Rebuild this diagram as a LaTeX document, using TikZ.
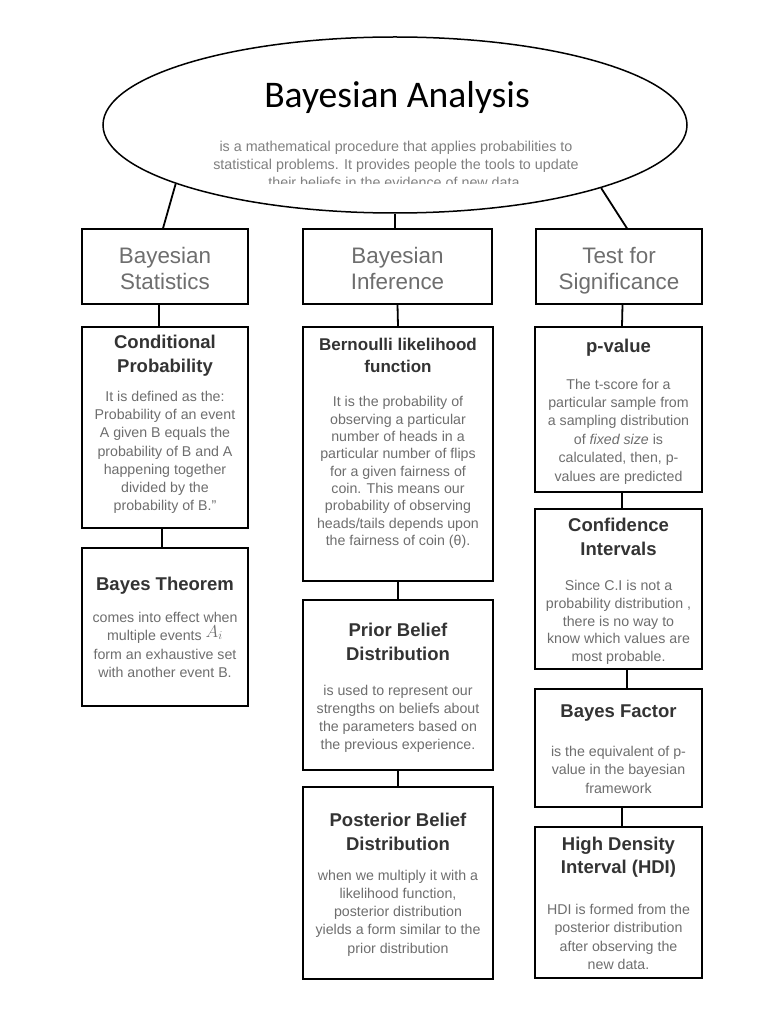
\documentclass[tikz,border=0pt]{standalone}
\usepackage{fontspec}
\setmainfont{Liberation Sans}
\newfontfamily\calfont{Carlito}
\usetikzlibrary{shapes.geometric}
\usetikzlibrary{positioning}
\definecolor{ttlgray}{HTML}{333333}
\definecolor{txtgray}{HTML}{6E6E6E}

\begin{document}
\begin{tikzpicture}[x=1pt,y=-1pt,
  box/.style={draw,line width=1.8pt,inner sep=0pt},
  hbox/.style={draw,line width=1.3pt,inner sep=0pt,minimum height=75pt},
  htxt/.style={inner sep=0pt,align=center,text=txtgray,font=\fontsize{22.4}{26}\selectfont},
  ttl/.style={inner sep=0pt,align=center,text=ttlgray,font=\bfseries\fontsize{18.5}{24}\selectfont},
  txt/.style={inner sep=0pt,align=center,text=txtgray,font=\fontsize{14.2}{18.2}\selectfont},
  link/.style={line width=1.8pt}]
  \fill[white] (0,0) rectangle (768,1024);
  \useasboundingbox (0,0) rectangle (768,1024);

  \node[draw,ellipse,line width=1.5pt,minimum width=584pt,minimum height=176pt,inner sep=0pt] (ba) at (395,125) {};
  \node[inner sep=0pt,font=\calfont\fontsize{37.6}{40}\selectfont] (bat) at (397,97) {Bayesian Analysis};
  \begin{scope}
    \clip (0,0) rectangle (768,184);
    \node[txt,text=gray,font=\fontsize{14.3}{18}\selectfont] (bab) at (396,164.5) {is a mathematical procedure that applies probabilities to\\statistical problems. It provides people the tools to update\\their beliefs in the evidence of new data.};
  \end{scope}

  \node[hbox,minimum width=166pt] (bs) at (165,266.5) {};
  \node[htxt] (bst) at (165,268) {Bayesian\\Statistics};
  \node[hbox,minimum width=189pt] (bi) at (397.5,266.5) {};
  \node[htxt] (bit) at (397.5,268) {Bayesian\\Inference};
  \node[hbox,minimum width=166pt] (ts) at (619,266.5) {};
  \node[htxt] (tst) at (619,270.5) {Test for\\Significance};

  \node[box,minimum width=166pt,minimum height=201pt] (cp) at (165,427.5) {};
  \node[ttl] (cpt) at (165,356) {Conditional\\Probability};
  \node[txt] (cpb) at (165,452.5) {It is defined as the:\\Probability of an event\\A given B equals the\\probability of B and A\\happening together\\divided by the\\probability of B.”};

  \node[box,minimum width=166pt,minimum height=158pt] (bt) at (165,627) {};
  \node[ttl] (btt) at (165,586) {Bayes Theorem};
  \node[txt,font=\fontsize{14.2}{18.6}\selectfont] (btb) at (165,645) {comes into effect when\\multiple events \smash{\raisebox{3.5pt}{\fontsize{16.5}{16.5}\selectfont$A_i$}}\\form an exhaustive set\\with another event B.};

  \node[box,minimum width=190pt,minimum height=254pt] (bern) at (398,454) {};
  \node[ttl,font=\bfseries\fontsize{17}{22}\selectfont] (bernt) at (398,355) {Bernoulli likelihood\\function};
  \node[txt,font=\fontsize{14.2}{17.3}\selectfont] (bernb) at (398,472.5) {It is the probability of\\observing a particular\\number of heads in a\\particular number of flips\\for a given fairness of\\coin. This means our\\probability of observing\\heads/tails depends upon\\the fairness of coin (θ).};

  \node[box,minimum width=190pt,minimum height=170pt] (prior) at (398,685) {};
  \node[ttl] (priort) at (398,642) {Prior Belief\\Distribution};
  \node[txt,font=\fontsize{14.2}{17.8}\selectfont] (priorb) at (398,719) {is used to represent our\\strengths on beliefs about\\the parameters based on\\the previous experience.};

  \node[box,minimum width=190pt,minimum height=192pt] (post) at (398,883) {};
  \node[ttl] (postt) at (398,832) {Posterior Belief\\Distribution};
  \node[txt] (postb) at (398,913) {when we multiply it with a\\likelihood function,\\posterior distribution\\yields a form similar to the\\prior distribution};

  \node[box,minimum width=167pt,minimum height=165pt] (pval) at (618.5,409.5) {};
  \node[ttl] (pvalt) at (618.5,348) {p-value};
  \node[txt,font=\fontsize{14.2}{18.4}\selectfont] (pvalb) at (618.5,431.5) {The t-score for a\\particular sample from\\a sampling distribution\\of \textit{fixed size} is\\calculated, then, p-\\values are predicted};

  \node[box,minimum width=167pt,minimum height=160pt] (ci) at (618.5,589) {};
  \node[ttl] (cit) at (618.5,537) {Confidence\\Intervals};
  \node[txt,font=\fontsize{14.2}{17.6}\selectfont] (cib) at (618.5,622.5) {Since C.I is not a\\probability distribution ,\\there is no way to\\know which values are\\most probable.};

  \node[box,minimum width=167pt,minimum height=118pt] (bf) at (618.5,748) {};
  \node[ttl] (bft) at (618.5,713) {Bayes Factor};
  \node[txt,font=\fontsize{14.2}{18.5}\selectfont] (bfb) at (618.5,769.5) {is the equivalent of p-\\value in the bayesian\\framework};

  \node[box,minimum width=167pt,minimum height=151pt] (hdi) at (618.5,902.5) {};
  \node[ttl,font=\bfseries\fontsize{18.5}{23}\selectfont] (hdit) at (618.5,857.5) {High Density\\Interval (HDI)};
  \node[txt,font=\fontsize{14.2}{18.2}\selectfont] (hdib) at (618.5,937) {HDI is formed from the\\posterior distribution\\after observing the\\new data.};

  \draw[link](ba.195)--([xshift=-2pt]bs.north);
  \draw[link](ba.south)--(ba.south|-bi.north);
  \draw[link](ba.343)--([xshift=8pt]ts.north);

  \draw[link]([xshift=-6pt]bs.south)--([xshift=-6pt]cp.north);
  \draw[link]([xshift=-3pt]cp.south)--([xshift=-3pt]bt.north);
  \draw[link](bi.south)--(bern.north);
  \draw[link](bern.south)--(prior.north);
  \draw[link](prior.south)--(post.north);
  \draw[link]([xshift=3.5pt]ts.south)--([xshift=3.5pt]pval.north);
  \draw[link]([xshift=3.5pt]pval.south)--([xshift=3.5pt]ci.north);
  \draw[link]([xshift=8.5pt]ci.south)--([xshift=8.5pt]bf.north);
  \draw[link]([xshift=3.5pt]bf.south)--([xshift=3.5pt]hdi.north);
\end{tikzpicture}
\end{document}
